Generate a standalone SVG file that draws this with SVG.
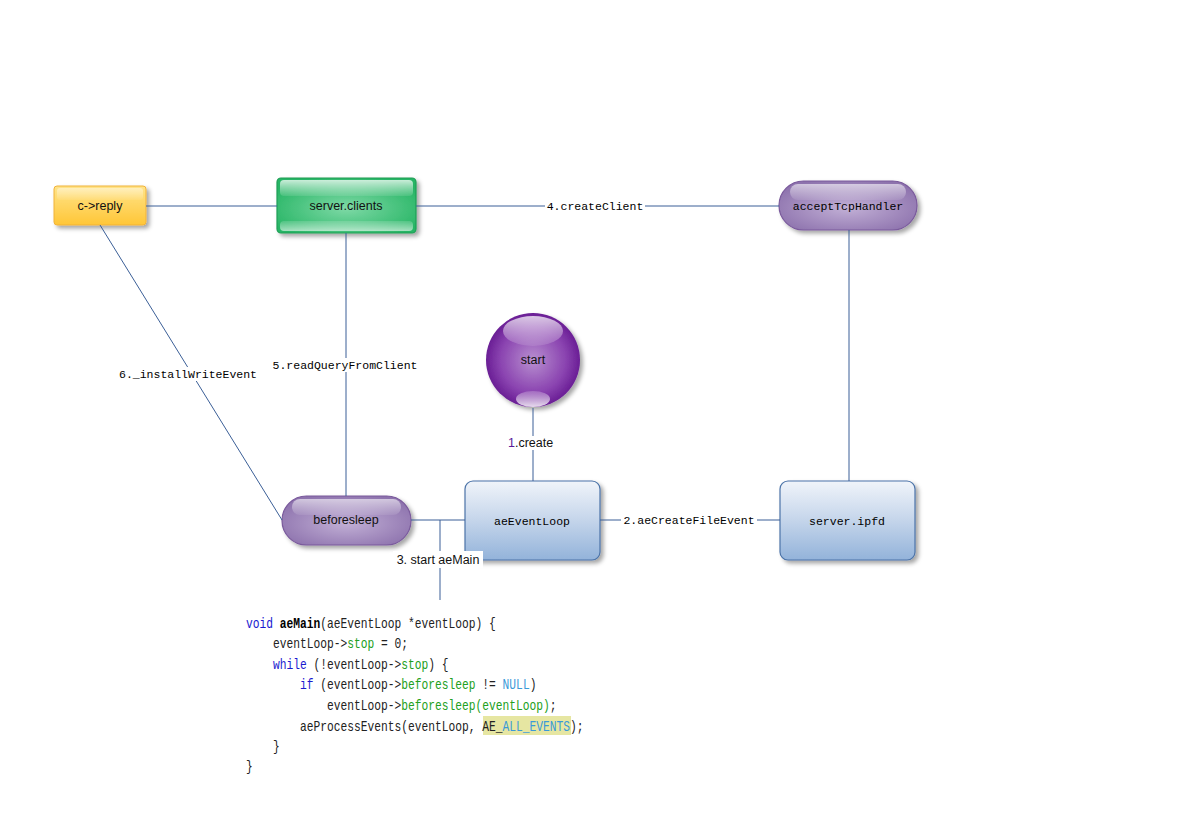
<svg xmlns="http://www.w3.org/2000/svg" width="1188" height="840" viewBox="0 0 1188 840">
<defs>
<style>
.conn{stroke:#3b5f97;stroke-width:1;fill:none}
.lbl{font-family:"Liberation Mono",monospace;font-size:11.5px;fill:#000}
.sans{font-family:"Liberation Sans",Arial,sans-serif;font-size:12.5px;fill:#111}
.code{font-family:"Liberation Mono",monospace;font-size:14px;fill:#222;white-space:pre}
.kw{fill:#1a1ad0}
.fld{fill:#22a022}
.cst{fill:#3a9ad8}
</style>
<filter id="sh" x="-20%" y="-20%" width="150%" height="160%">
<feDropShadow dx="3" dy="3" stdDeviation="2" flood-color="#000" flood-opacity="0.35"/>
</filter>
<linearGradient id="gBlue" x1="0" y1="0" x2="0" y2="1">
<stop offset="0" stop-color="#f0f4fa"/>
<stop offset="0.45" stop-color="#c9d8ec"/>
<stop offset="1" stop-color="#93b3da"/>
</linearGradient>
<radialGradient id="gPurple" cx="0.5" cy="0.55" r="0.6">
<stop offset="0" stop-color="#c2b0d6"/>
<stop offset="1" stop-color="#8d72ad"/>
</radialGradient>
<radialGradient id="gGreen" cx="0.5" cy="0.55" r="0.6">
<stop offset="0" stop-color="#7ed9a6"/>
<stop offset="1" stop-color="#27b565"/>
</radialGradient>
<linearGradient id="gYellow" x1="0" y1="0" x2="0" y2="1">
<stop offset="0" stop-color="#ffe48a"/>
<stop offset="1" stop-color="#ffc637"/>
</linearGradient>
<radialGradient id="gStart" cx="0.5" cy="0.5" r="0.5">
<stop offset="0" stop-color="#b88fd0"/>
<stop offset="0.7" stop-color="#8a43b0"/>
<stop offset="1" stop-color="#6a1e95"/>
</radialGradient>
<linearGradient id="gGloss" x1="0" y1="0" x2="0" y2="1">
<stop offset="0" stop-color="#fff" stop-opacity="0.75"/>
<stop offset="1" stop-color="#fff" stop-opacity="0.1"/>
</linearGradient>
<linearGradient id="gGlossUp" x1="0" y1="1" x2="0" y2="0">
<stop offset="0" stop-color="#fff" stop-opacity="0.85"/>
<stop offset="1" stop-color="#fff" stop-opacity="0.2"/>
</linearGradient>
</defs>
<rect width="1188" height="840" fill="#fff"/>

<g id="node-reply">
<rect x="54" y="186" width="92" height="39" rx="3" fill="url(#gYellow)" stroke="#f0b23a" stroke-width="1" filter="url(#sh)"/>
<rect x="57" y="188" width="86" height="12" rx="3" fill="url(#gGloss)" opacity="0.6"/>
<text class="sans" x="100" y="210" text-anchor="middle">c-&gt;reply</text>
</g>

<g id="node-clients">
<rect x="277" y="178" width="139" height="55" rx="4" fill="url(#gGreen)" stroke="#1f9e55" stroke-width="1.2" filter="url(#sh)"/>
<rect x="280" y="180" width="133" height="16" rx="4" fill="url(#gGloss)"/>
<rect x="280" y="221" width="133" height="10" rx="4" fill="url(#gGlossUp)" opacity="0.7"/>
<text class="sans" x="346" y="210" text-anchor="middle">server.clients</text>
</g>

<g id="node-accept">
<rect x="779" y="181" width="138" height="49" rx="24.5" fill="url(#gPurple)" stroke="#7a5a9c" stroke-width="1.2" filter="url(#sh)"/>
<rect x="790" y="184" width="116" height="16" rx="8" fill="url(#gGloss)" opacity="0.8"/>
<text class="lbl" x="848" y="210" text-anchor="middle">acceptTcpHandler</text>
</g>

<g id="node-start">
<circle cx="533" cy="360" r="47" fill="url(#gStart)" filter="url(#sh)"/>
<ellipse cx="533" cy="331" rx="30" ry="15" fill="url(#gGloss)"/>
<ellipse cx="533" cy="399" rx="17" ry="8" fill="url(#gGlossUp)"/>
<text class="sans" x="533" y="364" text-anchor="middle">start</text>
</g>

<g id="node-beforesleep">
<rect x="282" y="496" width="129" height="49" rx="24.5" fill="url(#gPurple)" stroke="#7a5a9c" stroke-width="1.2" filter="url(#sh)"/>
<rect x="292" y="499" width="109" height="16" rx="8" fill="url(#gGloss)" opacity="0.8"/>
<text class="sans" x="346" y="524" text-anchor="middle">beforesleep</text>
</g>

<g id="node-aeEventLoop">
<rect x="465" y="481" width="135" height="79" rx="8" fill="url(#gBlue)" stroke="#4b73a8" stroke-width="1.2" filter="url(#sh)"/>
<text class="lbl" x="532" y="525" text-anchor="middle">aeEventLoop</text>
</g>

<g id="node-ipfd">
<rect x="780" y="481" width="135" height="79" rx="8" fill="url(#gBlue)" stroke="#4b73a8" stroke-width="1.2" filter="url(#sh)"/>
<text class="lbl" x="847" y="525" text-anchor="middle">server.ipfd</text>
</g>

<g id="connectors">
<line class="conn" x1="146" y1="206" x2="277" y2="206"/>
<line class="conn" x1="416" y1="206" x2="779" y2="206"/>
<rect x="545" y="199" width="100" height="14" fill="#fff"/>
<text class="lbl" x="595" y="210" text-anchor="middle">4.createClient</text>
<line class="conn" x1="346" y1="233" x2="346" y2="496"/>
<rect x="271" y="358" width="149" height="14" fill="#fff"/>
<text class="lbl" x="345" y="369" text-anchor="middle">5.readQueryFromClient</text>
<line class="conn" x1="100" y1="225" x2="282" y2="520"/>
<rect x="118" y="367" width="141" height="14" fill="#fff"/>
<text class="lbl" x="188" y="378" text-anchor="middle">6._installWriteEvent</text>
<line class="conn" x1="533" y1="408" x2="533" y2="481"/>
<rect x="505" y="436" width="52" height="14" fill="#fff"/>
<text class="sans" x="508" y="447"><tspan fill="#5a1a9a">1</tspan>.create</text>
<line class="conn" x1="600" y1="520" x2="780" y2="520"/>
<rect x="621" y="513" width="136" height="14" fill="#fff"/>
<text class="lbl" x="689" y="524" text-anchor="middle">2.aeCreateFileEvent</text>
<line class="conn" x1="849" y1="230" x2="849" y2="481"/>
<line class="conn" x1="411" y1="520" x2="465" y2="520"/>
<line class="conn" x1="440" y1="520" x2="440" y2="600"/>
<rect x="393" y="551" width="90" height="17" fill="#fff"/>
<text class="sans" x="438" y="564" text-anchor="middle">3. start aeMain</text>
</g>

<g id="code">
<rect x="483" y="716" width="88" height="19" fill="#e6e6a2"/>
<g transform="translate(246,0) scale(0.805,1)">
<text class="code" xml:space="preserve" x="0" y="628"><tspan class="kw">void</tspan> <tspan font-weight="bold" fill="#000">aeMain</tspan>(aeEventLoop *eventLoop) {</text>
<text class="code" xml:space="preserve" x="0" y="648">    eventLoop-&gt;<tspan class="fld">stop</tspan> = 0;</text>
<text class="code" xml:space="preserve" x="0" y="669">    <tspan class="kw">while</tspan> (!eventLoop-&gt;<tspan class="fld">stop</tspan>) {</text>
<text class="code" xml:space="preserve" x="0" y="689">        <tspan class="kw">if</tspan> (eventLoop-&gt;<tspan class="fld">beforesleep</tspan> != <tspan class="cst">NULL</tspan>)</text>
<text class="code" xml:space="preserve" x="0" y="710">            eventLoop-&gt;<tspan class="fld">beforesleep(eventLoop)</tspan>;</text>
<text class="code" xml:space="preserve" x="0" y="731">        aeProcessEvents(eventLoop, AE_<tspan class="cst">ALL_EVENTS</tspan>);</text>
<text class="code" xml:space="preserve" x="0" y="751">    }</text>
<text class="code" xml:space="preserve" x="0" y="771">}</text>
</g>
</g>
</svg>
